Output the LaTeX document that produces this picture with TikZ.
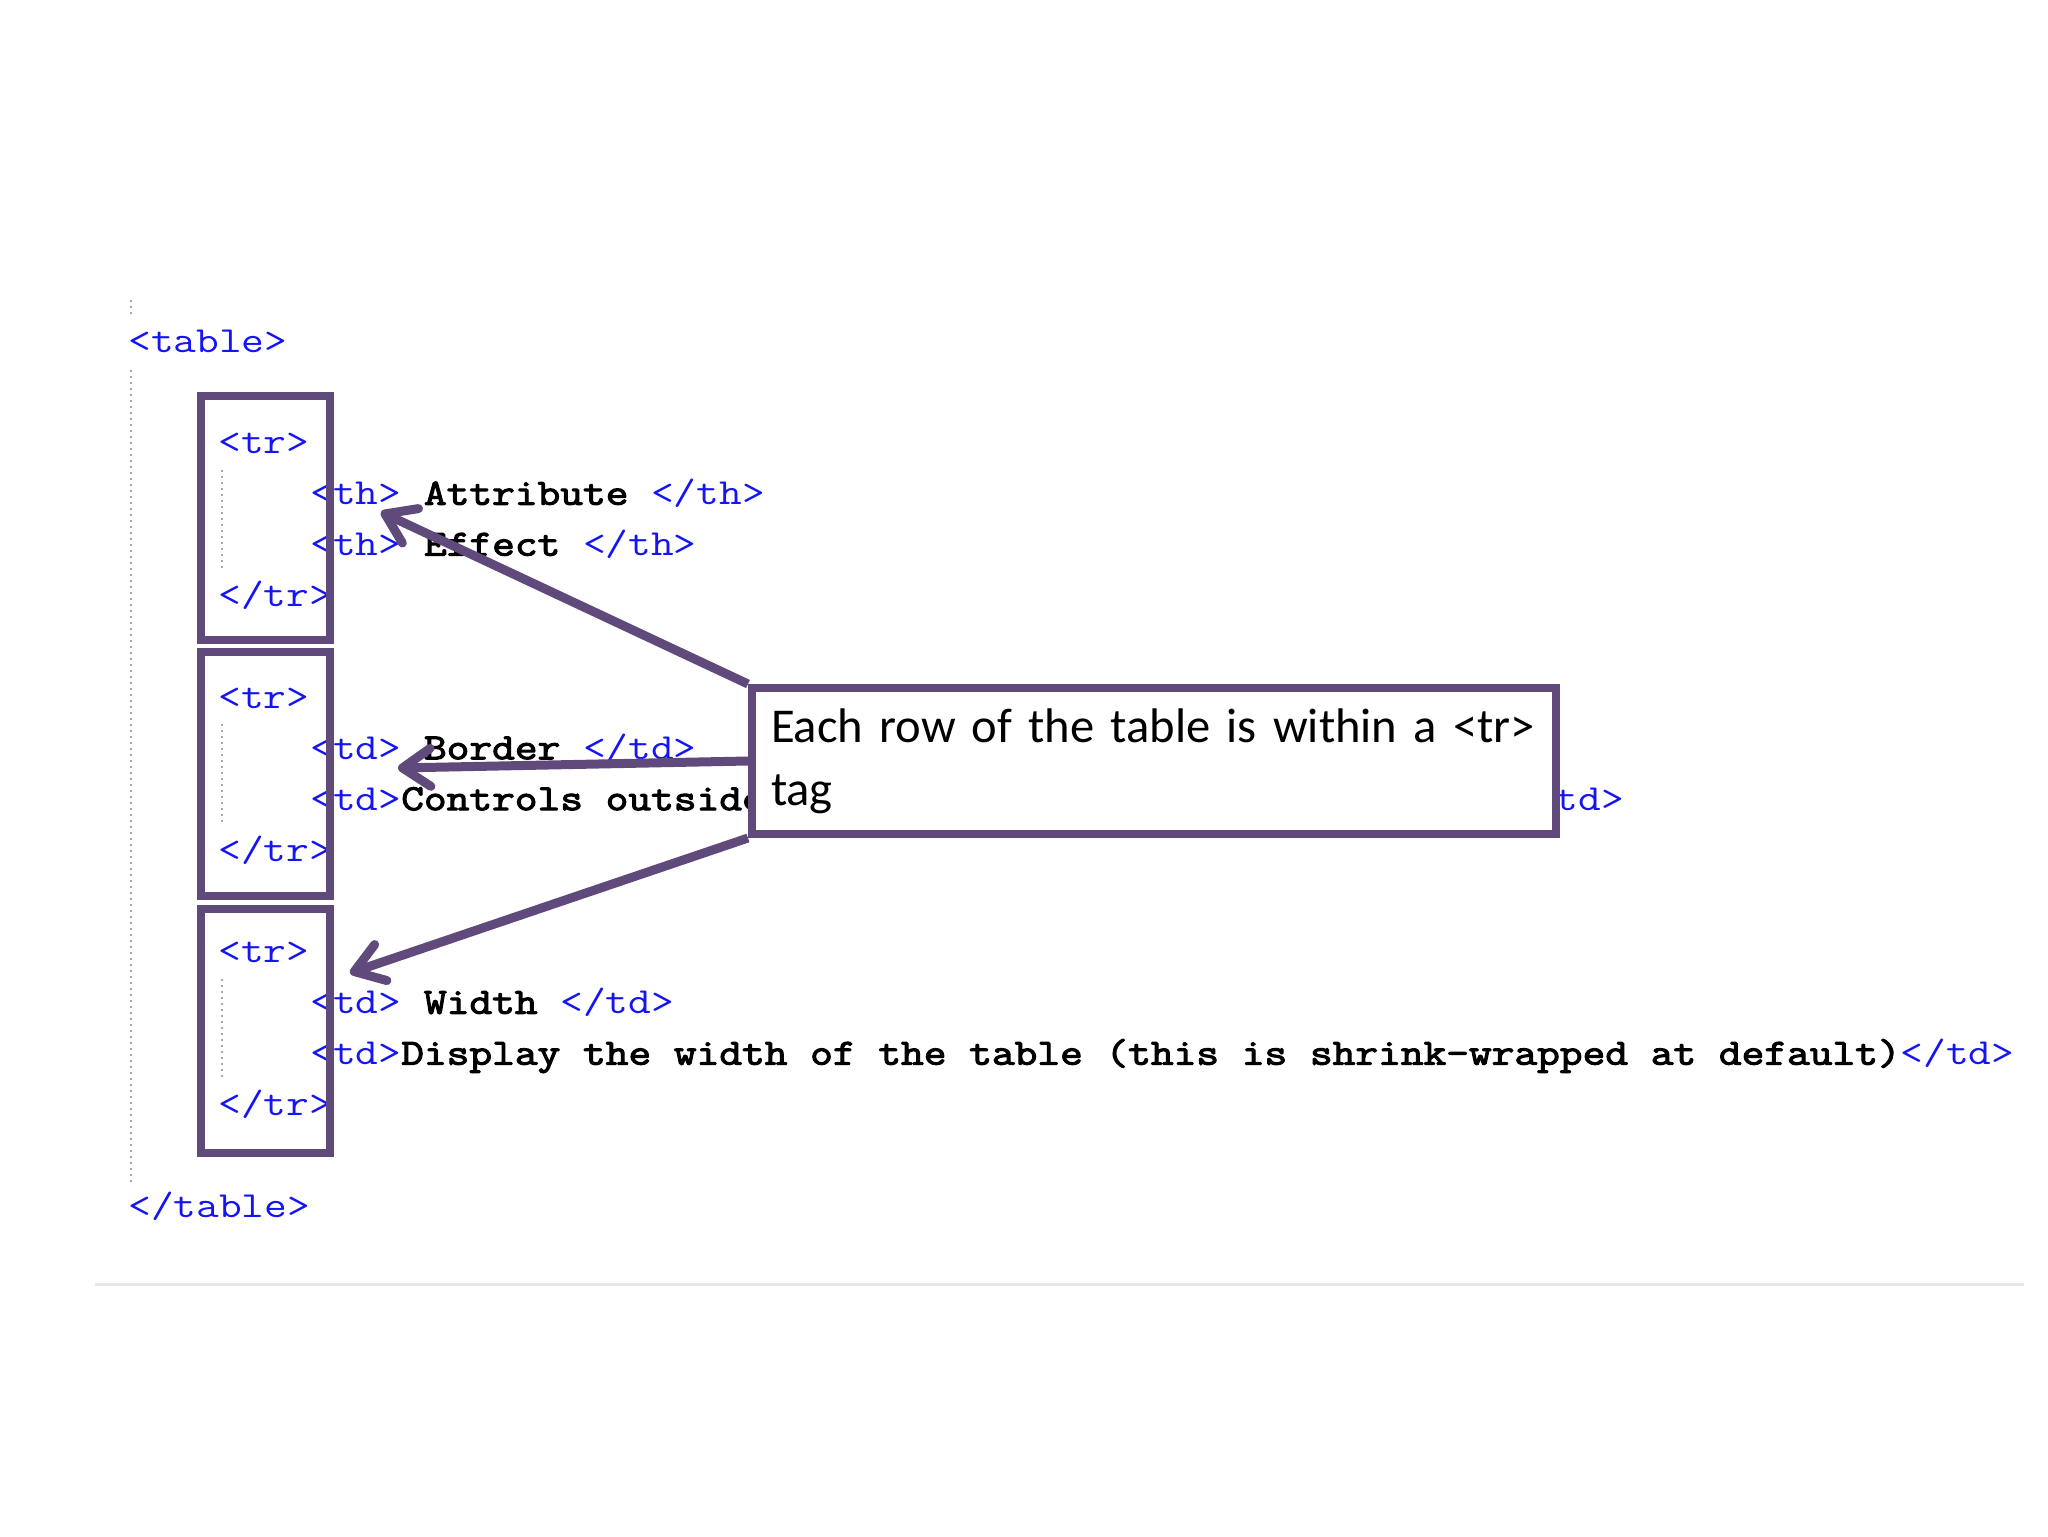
\documentclass[tikz,border=0pt]{standalone}
\usepackage{fontspec}
\setmainfont{Carlito}
\newfontfamily\codefont[FakeStretch=1.2]{Latin Modern Mono}
\newfontfamily\codeboldfont[FakeStretch=1.2,FakeBold=3]{Latin Modern Mono}
\usetikzlibrary{arrows.meta}
\definecolor{callpurple}{HTML}{604A7B}
\definecolor{tagblue}{RGB}{20,20,245}
\definecolor{guidegray}{HTML}{A8A8A8}
\definecolor{rulelav}{HTML}{E6E6F2}
\tikzset{
  code/.style={anchor=base west, inner sep=0pt, font=\codefont\fontsize{18.38}{22}\selectfont},
  tg/.style={code, text=tagblue},
  rowbox/.style={draw=callpurple, line width=4pt},
  guide/.style={draw=guidegray, line width=1pt, dotted},
  callbox/.style={draw=callpurple, fill=white, line width=4pt, anchor=north west,
    minimum width=401pt, minimum height=73pt, text width=383pt, inner xsep=9.5pt,
    align=left, font=\fontsize{24.3}{31.5}\selectfont},
  pointer/.style={draw=callpurple, line width=4.5pt,
    -{Straight Barb[length=14pt,width=19pt,round]}}
}
\newcommand{\B}[1]{\textcolor{black}{\codeboldfont #1}}
\begin{document}
\begin{tikzpicture}[x=0.5pt,y=-0.5pt]
\useasboundingbox (0,0) rectangle (2048,1536);
% guides
\draw[guide] (131,300) -- (131,318);
\draw[guide] (131,370) -- (131,1182);
\draw[guide] (222,470) -- (222,568);
\draw[guide] (222,724) -- (222,822);
\draw[guide] (222,979) -- (222,1077);
\draw[rulelav, line width=1.5pt] (95,1284) -- (2024,1284);
% code lines (baseline = 352 + 50.9k)
\node[tg] (ttop) at (128,352) {<table>};
\node[tg] (tr1) at (218,453.8) {<tr>};
\node[tg] (th1) at (310,504.7) {<th> \B{Attribute} </th>};
\node[tg] (th2) at (310,555.6) {<th> \B{Effect} </th>};
\node[tg] (tr1e) at (218,606.5) {</tr>};
\node[tg] (tr2) at (218,708.3) {<tr>};
\node[tg] (td1) at (310,759.2) {<td> \B{Border} </td>};
\node[tg] (td2) at (310,810.1) {<td>\B{Controls outside}};
\node[tg] (td2e) at (1510,810.1) {</td>};
\node[tg] (tr2e) at (218,861) {</tr>};
\node[tg] (tr3) at (218,962.8) {<tr>};
\node[tg] (td3) at (310,1013.7) {<td> \B{Width} </td>};
\node[tg] (td4) at (310,1064.6) {<td>\B{Display the width of the table (this is shrink-wrapped at default)}</td>};
\node[tg] (tr3e) at (218,1115.5) {</tr>};
\node[tg] (tbot) at (128,1217.3) {</table>};
% row boxes
\draw[rowbox] (201,396) rectangle (330,640);
\draw[rowbox] (201,652) rectangle (330,896);
\draw[rowbox] (201,909) rectangle (330,1153);
% callout
\node[callbox] (call) at (748,684) {\mbox{Each row of the table is within a <tr>}\\tag};
% arrow targets
\coordinate (p1) at (381,512);
\coordinate (p2) at (398,768);
\coordinate (p3) at (350,973);
\draw[pointer] (call.north west) -- (p1);
\draw[pointer] (call.west) -- (p2);
\draw[pointer] (call.south west) -- (p3);
\end{tikzpicture}
\end{document}
